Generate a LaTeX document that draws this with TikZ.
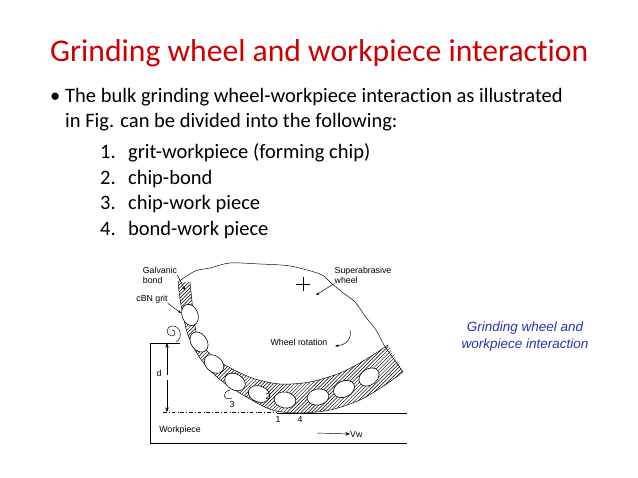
\documentclass[tikz,border=0pt]{standalone}
\usepackage{fontspec}
\setmainfont{Carlito}[Ligatures=NoCommon]
\newfontfamily\arialf{Liberation Sans}
\usetikzlibrary{patterns,arrows.meta}
\definecolor{titlered}{RGB}{204,0,0}
\definecolor{capblue}{RGB}{40,50,180}
\begin{document}
\begin{tikzpicture}[x=0.03cm,y=-0.03cm,
  lbl/.style={font=\arialf\fontsize{7.5}{8.5}\selectfont,inner sep=0pt},
  grit/.style={draw,fill=white,line width=0.5pt},
  txt/.style={anchor=base west,inner sep=0pt,font=\fontsize{17.5}{20}\selectfont}]
\useasboundingbox (0,0) rectangle (638,478);
\node[anchor=base west,inner sep=0pt,text=titlered,font=\fontsize{27}{30}\selectfont] (title) at (50,62) {Grinding wheel and workpiece interaction};
\node[txt] (b) at (50,103) {\textbullet};
\node[txt] (l1) at (65,103) {The bulk grinding wheel-workpiece interaction as illustrated};
\node[txt] (l2) at (65,127) {in Fig. can be divided into the following:};
\node[txt] (i1) at (100,158) {1.\hspace{0.6em}grit-workpiece (forming chip)};
\node[txt] (i2) at (100,184) {2.\hspace{0.6em}chip-bond};
\node[txt] (i3) at (100,209) {3.\hspace{0.6em}chip-work piece};
\node[txt] (i4) at (100,235) {4.\hspace{0.6em}bond-work piece};
\node[text=capblue,align=center,font=\arialf\itshape\fontsize{11.5}{14.5}\selectfont] (cap) at (525,337) {Grinding wheel and\\workpiece interaction};
% band
\fill[pattern=north east lines] plot[smooth] coordinates {(178,282)(181,305)(188,335)(200,358)(218,378)(243,395)(272,410)(300,413)(330,410)(360,400)(385,385)(403,372)}
 -- plot[smooth] coordinates {(388,345)(365,360)(340,373)(310,382)(280,384)(252,378)(225,365)(208,352)(197,335)(193,310)(190,282)} -- cycle;
\draw plot[smooth] coordinates {(178,282)(181,305)(188,335)(200,358)(218,378)(243,395)(272,410)(300,413)(330,410)(360,400)(385,385)(403,372)};
\draw plot[smooth] coordinates {(190,282)(193,310)(197,335)(208,352)(225,365)(252,378)(280,384)(310,382)(340,373)(365,360)(388,345)};
\draw plot[smooth] coordinates {(178,282)(195,271)(210,268)(230,263)(260,264)(290,266)(320,274)(330,282)(342,292)(355,302)(365,316)(376,330)(384,345)(396,362)(403,372)};
% grits
\foreach \x/\y/\a in {190/315/-70,199/342/-55,214/364/-40,235/382/-30,259/394/-20,285/400/-10,318/397/10,344/389/25,369/377/35}
  \draw[grit,rotate around={\a:(\x,\y)}] (\x,\y) ellipse (11 and 8);
% chips
\draw (176,342) .. controls (184,338) and (180,325) .. (172,326) .. controls (165,327) and (166,336) .. (172,336) .. controls (176,336) and (176,330) .. (172,330);
\draw (232,398) .. controls (222,401) and (222,392) .. (230,390);
% workpiece
\draw (180,343) -- (150,343) -- (150,443) -- (407,443);
\draw (277,413) -- (407,413);
\draw[dash dot] (163,412) -- (277,412);
\draw[-{Stealth[length=4pt]}] (167,375) -- (167,343);
\draw[-{Stealth[length=4pt]}] (167,380) -- (167,412);
\node[lbl] (d) at (159,373) {d};
\node[lbl] (wp) at (180,430) {Workpiece};
\coordinate (v1) at (317,433);
\node[lbl,anchor=west] (vw) at (350,434) {Vw};
\draw[-{Stealth[length=4pt]}] (v1) -- (vw.west);
\node[lbl] (n3) at (232,404) {3};
\node[lbl] (n1) at (278,419) {1};
\node[lbl] (n4) at (300,419) {4};
\node[lbl] (n2) at (268,396) {2};
% cross
\draw (303,277) -- (303,291) (296,284) -- (310,284);
\node[lbl,align=left] (gb) at (160,275) {Galvanic\\bond};
\node[lbl] (cbn) at (152,299) {cBN grit};
\node[lbl,align=left] (sw) at (363,275) {Superabrasive\\wheel};
\node[lbl] (wr) at (299,342) {Wheel rotation};
\coordinate (gbt) at (185,290);
\coordinate (cbt) at (181,313);
\coordinate (swt) at (316,295);
\draw[-{Stealth[length=3pt]}] (gb.east) -- (gbt);
\draw[-{Stealth[length=3pt]}] (cbn.south east) -- (cbt);
\draw[-{Stealth[length=3pt]}] (sw.south west) -- (swt);
\draw[-{Stealth[length=3pt]}] (350,330) .. controls (352,340) and (345,345) .. (335,346);
\end{tikzpicture}
\end{document}
